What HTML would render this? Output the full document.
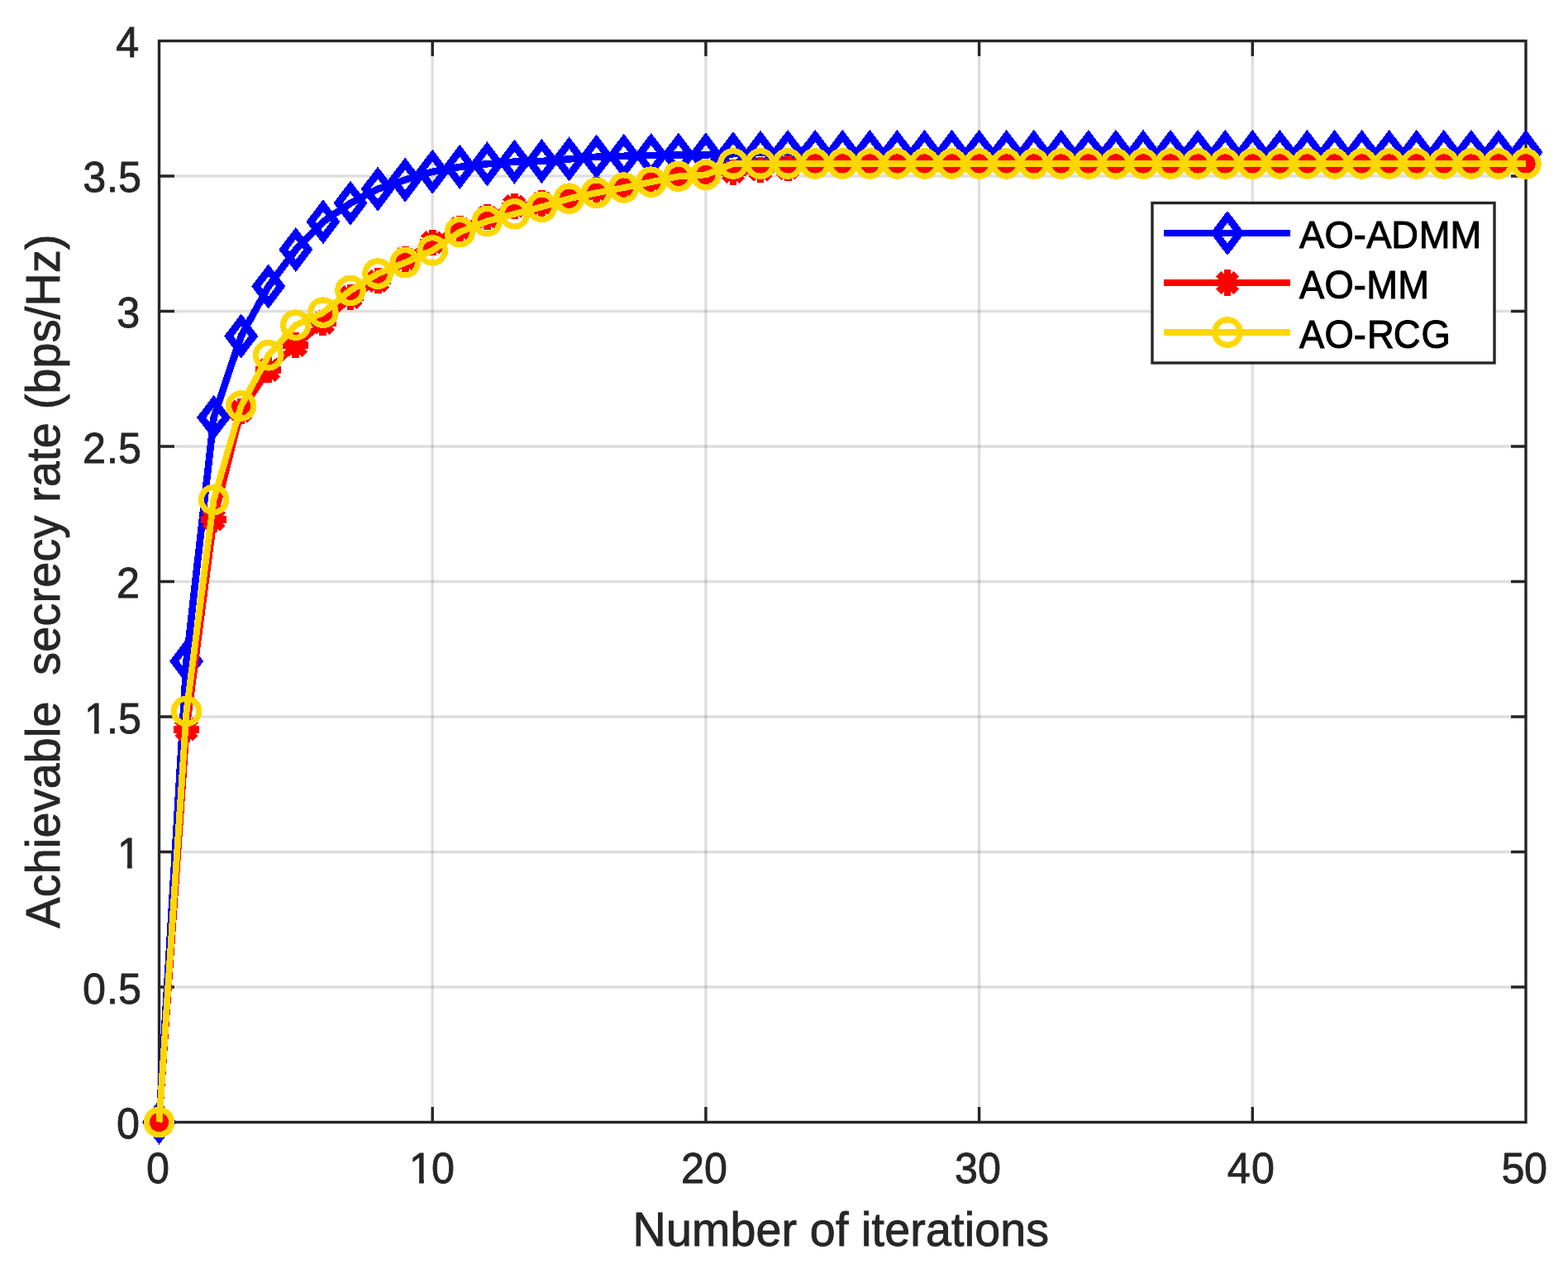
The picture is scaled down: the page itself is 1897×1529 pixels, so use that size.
<!DOCTYPE html>
<html lang="en"><head><meta charset="utf-8"><title>Achievable secrecy rate versus number of iterations</title>
<style>html,body{margin:0;padding:0;background:#fff}body{width:1897px;height:1529px;overflow:hidden}svg{display:block}text{font-family:"Liberation Sans",Arial,Helvetica,sans-serif;white-space:pre}.t{font-size:50.3px;fill:#262626;stroke:#262626;stroke-width:.8px}.l{font-size:55.6px;fill:#262626;stroke:#262626;stroke-width:.9px}.g{font-size:45.3px;fill:#000;stroke:#000;stroke-width:1px}</style>
</head><body>
<svg width="1897" height="1529" viewBox="0 0 1897 1529">
<defs><clipPath id="c1" clipPathUnits="userSpaceOnUse"><path clip-rule="evenodd" d="M-60 -60H160V30H-60ZM-6 -5.06H12.05V3H-6ZM17.69 -5.06H26.89V3H17.69Z"/></clipPath></defs>
<rect x="0" y="0" width="1897" height="1529" fill="#fff"/>
<g fill="none" stroke="#262626" stroke-opacity=".15" stroke-width="3.4">
<path d="M523.20 49.50V1357.50"/>
<path d="M853.90 49.50V1357.50"/>
<path d="M1184.60 49.50V1357.50"/>
<path d="M1515.30 49.50V1357.50"/>
<path d="M192.50 1194.00H1846.00"/>
<path d="M192.50 1030.50H1846.00"/>
<path d="M192.50 867.00H1846.00"/>
<path d="M192.50 703.50H1846.00"/>
<path d="M192.50 540.00H1846.00"/>
<path d="M192.50 376.50H1846.00"/>
<path d="M192.50 213.00H1846.00"/>
</g>
<g fill="none" stroke="#262626" stroke-width="3.4">
<rect x="192.50" y="49.50" width="1653.50" height="1308.00"/>
<path d="M523.20 1357.50V1339M523.20 49.50V68"/>
<path d="M853.90 1357.50V1339M853.90 49.50V68"/>
<path d="M1184.60 1357.50V1339M1184.60 49.50V68"/>
<path d="M1515.30 1357.50V1339M1515.30 49.50V68"/>
<path d="M192.50 1194.00H211M1846.00 1194.00H1828"/>
<path d="M192.50 1030.50H211M1846.00 1030.50H1828"/>
<path d="M192.50 867.00H211M1846.00 867.00H1828"/>
<path d="M192.50 703.50H211M1846.00 703.50H1828"/>
<path d="M192.50 540.00H211M1846.00 540.00H1828"/>
<path d="M192.50 376.50H211M1846.00 376.50H1828"/>
<path d="M192.50 213.00H211M1846.00 213.00H1828"/>
</g>
<text class="t" transform="translate(176.96 1431.00) scale(1 1.030)" x="0.00" y="0">0</text>
<text class="t" transform="translate(495.10 1431.00) scale(1 1.030)" x="0.00 26.86" y="0" clip-path="url(#c1)">10</text>
<text class="t" transform="translate(823.97 1431.00) scale(1 1.030)" x="0.00 28.07" y="0">20</text>
<text class="t" transform="translate(1155.12 1431.00) scale(1 1.030)" x="0.00 27.89" y="0">30</text>
<text class="t" transform="translate(1484.66 1431.00) scale(1 1.030)" x="0.00 29.41" y="0">40</text>
<text class="t" transform="translate(1816.52 1431.00) scale(1 1.030)" x="0.00 27.55" y="0">50</text>
<text class="t" transform="translate(141.04 1377.00) scale(1 1.030)" x="0.00" y="0">0</text>
<text class="t" transform="translate(100.08 1214.00) scale(1 1.030)" x="0.00 29.00 42.93" y="0">0.5</text>
<text class="t" transform="translate(142.00 1050.00) scale(1 1.030)" x="0.00" y="0" clip-path="url(#c1)">1</text>
<text class="t" transform="translate(102.00 887.00) scale(1 1.030)" x="0.00 27.08 41.01" y="0" clip-path="url(#c1)">1.5</text>
<text class="t" transform="translate(141.04 723.00) scale(1 1.030)" x="0.00" y="0">2</text>
<text class="t" transform="translate(100.08 560.00) scale(1 1.030)" x="0.00 29.00 42.93" y="0">2.5</text>
<text class="t" transform="translate(141.19 396.00) scale(1 1.030)" x="0.00" y="0">3</text>
<text class="t" transform="translate(100.23 232.00) scale(1 1.030)" x="0.00 28.85 42.78" y="0">3.5</text>
<text class="t" transform="translate(140.20 69.00) scale(1 1.030)" x="0.00" y="0">4</text>
<text class="l" transform="translate(765.60 1507.00) scale(1 1.030)" x="0" y="0" textLength="503.5" lengthAdjust="spacing">Number of iterations</text>
<text class="l" transform="translate(72.00 1122.70) rotate(-90) scale(1 1.030)" x="0" y="0" textLength="839.2" lengthAdjust="spacing" xml:space="preserve">Achievable  secrecy rate (bps/Hz)</text>
<g fill="none" stroke="#0000ff" stroke-width="8" stroke-linejoin="miter" shape-rendering="crispEdges">
<polyline stroke-width="8.6" points="192.50,1357.50 225.57,799.80 258.64,505.01 291.71,406.58 324.78,346.42 357.85,301.94 390.92,268.26 423.99,245.70 457.06,228.70 490.13,217.58 523.20,207.77 556.27,201.88 589.34,198.29 622.41,195.67 655.48,195.01 688.55,192.40 721.62,189.78 754.69,188.80 787.76,187.98 820.83,187.66 853.90,187.33 886.97,186.19 920.04,184.88 953.11,183.90 986.18,183.90"/>
<polyline points="986.18,183.90 1019.25,183.90 1052.32,183.90 1085.39,183.90 1118.46,183.90 1151.53,183.90 1184.60,183.90 1217.67,183.90 1250.74,183.90 1283.81,183.90 1316.88,183.90 1349.95,183.90 1383.02,183.90 1416.09,183.90 1449.16,183.90 1482.23,183.90 1515.30,183.90 1548.37,183.90 1581.44,183.90 1614.51,183.90 1647.58,183.90 1680.65,183.90 1713.72,183.90 1746.79,183.90 1779.86,183.90 1812.93,183.90 1846.00,183.90"/>
<path stroke-width="9" d="M192.50 1337.85L207.40 1357.50L192.50 1377.15L177.60 1357.50Z"/>
<path stroke-width="9" d="M225.57 780.15L240.47 799.80L225.57 819.45L210.67 799.80Z"/>
<path stroke-width="9" d="M258.64 485.36L273.54 505.01L258.64 524.66L243.74 505.01Z"/>
<path stroke-width="9" d="M291.71 386.93L306.61 406.58L291.71 426.23L276.81 406.58Z"/>
<path stroke-width="9" d="M324.78 326.77L339.68 346.42L324.78 366.07L309.88 346.42Z"/>
<path stroke-width="9" d="M357.85 282.29L372.75 301.94L357.85 321.59L342.95 301.94Z"/>
<path stroke-width="9" d="M390.92 248.61L405.82 268.26L390.92 287.91L376.02 268.26Z"/>
<path stroke-width="9" d="M423.99 226.05L438.89 245.70L423.99 265.35L409.09 245.70Z"/>
<path stroke-width="9" d="M457.06 209.05L471.96 228.70L457.06 248.35L442.16 228.70Z"/>
<path stroke-width="9" d="M490.13 197.93L505.03 217.58L490.13 237.23L475.23 217.58Z"/>
<path stroke-width="9" d="M523.20 188.12L538.10 207.77L523.20 227.42L508.30 207.77Z"/>
<path stroke-width="9" d="M556.27 182.23L571.17 201.88L556.27 221.53L541.37 201.88Z"/>
<path stroke-width="9" d="M589.34 178.64L604.24 198.29L589.34 217.94L574.44 198.29Z"/>
<path stroke-width="9" d="M622.41 176.02L637.31 195.67L622.41 215.32L607.51 195.67Z"/>
<path stroke-width="9" d="M655.48 175.36L670.38 195.01L655.48 214.66L640.58 195.01Z"/>
<path stroke-width="9" d="M688.55 172.75L703.45 192.40L688.55 212.05L673.65 192.40Z"/>
<path stroke-width="9" d="M721.62 170.13L736.52 189.78L721.62 209.43L706.72 189.78Z"/>
<path stroke-width="9" d="M754.69 169.15L769.59 188.80L754.69 208.45L739.79 188.80Z"/>
<path stroke-width="9" d="M787.76 168.33L802.66 187.98L787.76 207.63L772.86 187.98Z"/>
<path stroke-width="9" d="M820.83 168.01L835.73 187.66L820.83 207.31L805.93 187.66Z"/>
<path stroke-width="9" d="M853.90 167.68L868.80 187.33L853.90 206.98L839.00 187.33Z"/>
<path stroke-width="9" d="M886.97 166.54L901.87 186.19L886.97 205.84L872.07 186.19Z"/>
<path stroke-width="9" d="M920.04 165.23L934.94 184.88L920.04 204.53L905.14 184.88Z"/>
<path stroke-width="9" d="M953.11 164.25L968.01 183.90L953.11 203.55L938.21 183.90Z"/>
<path stroke-width="9" d="M986.18 164.25L1001.08 183.90L986.18 203.55L971.28 183.90Z"/>
<path stroke-width="9" d="M1019.25 164.25L1034.15 183.90L1019.25 203.55L1004.35 183.90Z"/>
<path stroke-width="9" d="M1052.32 164.25L1067.22 183.90L1052.32 203.55L1037.42 183.90Z"/>
<path stroke-width="9" d="M1085.39 164.25L1100.29 183.90L1085.39 203.55L1070.49 183.90Z"/>
<path stroke-width="9" d="M1118.46 164.25L1133.36 183.90L1118.46 203.55L1103.56 183.90Z"/>
<path stroke-width="9" d="M1151.53 164.25L1166.43 183.90L1151.53 203.55L1136.63 183.90Z"/>
<path stroke-width="9" d="M1184.60 164.25L1199.50 183.90L1184.60 203.55L1169.70 183.90Z"/>
<path stroke-width="9" d="M1217.67 164.25L1232.57 183.90L1217.67 203.55L1202.77 183.90Z"/>
<path stroke-width="9" d="M1250.74 164.25L1265.64 183.90L1250.74 203.55L1235.84 183.90Z"/>
<path stroke-width="9" d="M1283.81 164.25L1298.71 183.90L1283.81 203.55L1268.91 183.90Z"/>
<path stroke-width="9" d="M1316.88 164.25L1331.78 183.90L1316.88 203.55L1301.98 183.90Z"/>
<path stroke-width="9" d="M1349.95 164.25L1364.85 183.90L1349.95 203.55L1335.05 183.90Z"/>
<path stroke-width="9" d="M1383.02 164.25L1397.92 183.90L1383.02 203.55L1368.12 183.90Z"/>
<path stroke-width="9" d="M1416.09 164.25L1430.99 183.90L1416.09 203.55L1401.19 183.90Z"/>
<path stroke-width="9" d="M1449.16 164.25L1464.06 183.90L1449.16 203.55L1434.26 183.90Z"/>
<path stroke-width="9" d="M1482.23 164.25L1497.13 183.90L1482.23 203.55L1467.33 183.90Z"/>
<path stroke-width="9" d="M1515.30 164.25L1530.20 183.90L1515.30 203.55L1500.40 183.90Z"/>
<path stroke-width="9" d="M1548.37 164.25L1563.27 183.90L1548.37 203.55L1533.47 183.90Z"/>
<path stroke-width="9" d="M1581.44 164.25L1596.34 183.90L1581.44 203.55L1566.54 183.90Z"/>
<path stroke-width="9" d="M1614.51 164.25L1629.41 183.90L1614.51 203.55L1599.61 183.90Z"/>
<path stroke-width="9" d="M1647.58 164.25L1662.48 183.90L1647.58 203.55L1632.68 183.90Z"/>
<path stroke-width="9" d="M1680.65 164.25L1695.55 183.90L1680.65 203.55L1665.75 183.90Z"/>
<path stroke-width="9" d="M1713.72 164.25L1728.62 183.90L1713.72 203.55L1698.82 183.90Z"/>
<path stroke-width="9" d="M1746.79 164.25L1761.69 183.90L1746.79 203.55L1731.89 183.90Z"/>
<path stroke-width="9" d="M1779.86 164.25L1794.76 183.90L1779.86 203.55L1764.96 183.90Z"/>
<path stroke-width="9" d="M1812.93 164.25L1827.83 183.90L1812.93 203.55L1798.03 183.90Z"/>
<path stroke-width="9" d="M1846.00 164.25L1860.90 183.90L1846.00 203.55L1831.10 183.90Z"/>
</g>
<g fill="none" stroke="#ff0000" stroke-width="8" stroke-linejoin="miter" shape-rendering="crispEdges">
<polyline stroke-width="8" points="192.50,1357.50 225.57,882.14 258.64,628.29 291.71,497.49 324.78,447.79 357.85,417.54 390.92,390.56 423.99,359.50 457.06,339.88 490.13,313.39 523.20,293.44 556.27,276.27 589.34,262.70 622.41,249.30 655.48,246.03 688.55,239.81 721.62,229.68 754.69,224.61 787.76,218.23 820.83,212.67 853.90,209.73 886.97,208.10 920.04,205.32 953.11,203.52 986.18,197.96"/>
<polyline points="986.18,197.96 1019.25,197.96 1052.32,197.96 1085.39,197.96 1118.46,197.96 1151.53,197.96 1184.60,197.96 1217.67,197.96 1250.74,197.96 1283.81,197.96 1316.88,197.96 1349.95,197.96 1383.02,197.96 1416.09,197.96 1449.16,197.96 1482.23,197.96 1515.30,197.96 1548.37,197.96 1581.44,197.96 1614.51,197.96 1647.58,197.96 1680.65,197.96 1713.72,197.96 1746.79,197.96 1779.86,197.96 1812.93,197.96 1846.00,197.96"/>
<path stroke-width="8.9" d="M176.90 1357.50H208.10M192.50 1341.90V1373.10"/><path stroke-width="9.2" d="M181.61 1346.61L203.39 1368.39M181.61 1368.39L203.39 1346.61"/>
<path stroke-width="8.9" d="M209.97 882.14H241.17M225.57 866.54V897.74"/><path stroke-width="9.2" d="M214.68 871.25L236.46 893.03M214.68 893.03L236.46 871.25"/>
<path stroke-width="8.9" d="M243.04 628.29H274.24M258.64 612.69V643.89"/><path stroke-width="9.2" d="M247.75 617.40L269.53 639.18M247.75 639.18L269.53 617.40"/>
<path stroke-width="8.9" d="M276.11 497.49H307.31M291.71 481.89V513.09"/><path stroke-width="9.2" d="M280.82 486.60L302.60 508.38M280.82 508.38L302.60 486.60"/>
<path stroke-width="8.9" d="M309.18 447.79H340.38M324.78 432.19V463.39"/><path stroke-width="9.2" d="M313.89 436.90L335.67 458.68M313.89 458.68L335.67 436.90"/>
<path stroke-width="8.9" d="M342.25 417.54H373.45M357.85 401.94V433.14"/><path stroke-width="9.2" d="M346.96 406.65L368.74 428.43M346.96 428.43L368.74 406.65"/>
<path stroke-width="8.9" d="M375.32 390.56H406.52M390.92 374.96V406.16"/><path stroke-width="9.2" d="M380.03 379.67L401.81 401.45M380.03 401.45L401.81 379.67"/>
<path stroke-width="8.9" d="M408.39 359.50H439.59M423.99 343.90V375.10"/><path stroke-width="9.2" d="M413.10 348.61L434.88 370.39M413.10 370.39L434.88 348.61"/>
<path stroke-width="8.9" d="M441.46 339.88H472.66M457.06 324.28V355.48"/><path stroke-width="9.2" d="M446.17 328.99L467.95 350.77M446.17 350.77L467.95 328.99"/>
<path stroke-width="8.9" d="M474.53 313.39H505.73M490.13 297.79V328.99"/><path stroke-width="9.2" d="M479.24 302.50L501.02 324.28M479.24 324.28L501.02 302.50"/>
<path stroke-width="8.9" d="M507.60 293.44H538.80M523.20 277.84V309.04"/><path stroke-width="9.2" d="M512.31 282.55L534.09 304.33M512.31 304.33L534.09 282.55"/>
<path stroke-width="8.9" d="M540.67 276.27H571.87M556.27 260.67V291.87"/><path stroke-width="9.2" d="M545.38 265.39L567.16 287.16M545.38 287.16L567.16 265.39"/>
<path stroke-width="8.9" d="M573.74 262.70H604.94M589.34 247.10V278.30"/><path stroke-width="9.2" d="M578.45 251.81L600.23 273.59M578.45 273.59L600.23 251.81"/>
<path stroke-width="8.9" d="M606.81 249.30H638.01M622.41 233.70V264.90"/><path stroke-width="9.2" d="M611.52 238.41L633.30 260.19M611.52 260.19L633.30 238.41"/>
<path stroke-width="8.9" d="M639.88 246.03H671.08M655.48 230.43V261.63"/><path stroke-width="9.2" d="M644.59 235.14L666.37 256.92M644.59 256.92L666.37 235.14"/>
<path stroke-width="8.9" d="M672.95 239.81H704.15M688.55 224.21V255.41"/><path stroke-width="9.2" d="M677.66 228.92L699.44 250.70M677.66 250.70L699.44 228.92"/>
<path stroke-width="8.9" d="M706.02 229.68H737.22M721.62 214.08V245.28"/><path stroke-width="9.2" d="M710.73 218.79L732.51 240.57M710.73 240.57L732.51 218.79"/>
<path stroke-width="8.9" d="M739.09 224.61H770.29M754.69 209.01V240.21"/><path stroke-width="9.2" d="M743.80 213.72L765.58 235.50M743.80 235.50L765.58 213.72"/>
<path stroke-width="8.9" d="M772.16 218.23H803.36M787.76 202.63V233.83"/><path stroke-width="9.2" d="M776.87 207.34L798.65 229.12M776.87 229.12L798.65 207.34"/>
<path stroke-width="8.9" d="M805.23 212.67H836.43M820.83 197.07V228.27"/><path stroke-width="9.2" d="M809.94 201.78L831.72 223.56M809.94 223.56L831.72 201.78"/>
<path stroke-width="8.9" d="M838.30 209.73H869.50M853.90 194.13V225.33"/><path stroke-width="9.2" d="M843.01 198.84L864.79 220.62M843.01 220.62L864.79 198.84"/>
<path stroke-width="8.9" d="M871.37 208.10H902.57M886.97 192.50V223.70"/><path stroke-width="9.2" d="M876.08 197.21L897.86 218.98M876.08 218.98L897.86 197.21"/>
<path stroke-width="8.9" d="M904.44 205.32H935.64M920.04 189.72V220.92"/><path stroke-width="9.2" d="M909.15 194.43L930.93 216.20M909.15 216.20L930.93 194.43"/>
<path stroke-width="8.9" d="M937.51 203.52H968.71M953.11 187.92V219.12"/><path stroke-width="9.2" d="M942.22 192.63L964.00 214.41M942.22 214.41L964.00 192.63"/>
<path stroke-width="8.9" d="M970.58 197.96H1001.78M986.18 182.36V213.56"/><path stroke-width="9.2" d="M975.29 187.07L997.07 208.85M975.29 208.85L997.07 187.07"/>
<path stroke-width="8.9" d="M1003.65 197.96H1034.85M1019.25 182.36V213.56"/><path stroke-width="9.2" d="M1008.36 187.07L1030.14 208.85M1008.36 208.85L1030.14 187.07"/>
<path stroke-width="8.9" d="M1036.72 197.96H1067.92M1052.32 182.36V213.56"/><path stroke-width="9.2" d="M1041.43 187.07L1063.21 208.85M1041.43 208.85L1063.21 187.07"/>
<path stroke-width="8.9" d="M1069.79 197.96H1100.99M1085.39 182.36V213.56"/><path stroke-width="9.2" d="M1074.50 187.07L1096.28 208.85M1074.50 208.85L1096.28 187.07"/>
<path stroke-width="8.9" d="M1102.86 197.96H1134.06M1118.46 182.36V213.56"/><path stroke-width="9.2" d="M1107.57 187.07L1129.35 208.85M1107.57 208.85L1129.35 187.07"/>
<path stroke-width="8.9" d="M1135.93 197.96H1167.13M1151.53 182.36V213.56"/><path stroke-width="9.2" d="M1140.64 187.07L1162.42 208.85M1140.64 208.85L1162.42 187.07"/>
<path stroke-width="8.9" d="M1169.00 197.96H1200.20M1184.60 182.36V213.56"/><path stroke-width="9.2" d="M1173.71 187.07L1195.49 208.85M1173.71 208.85L1195.49 187.07"/>
<path stroke-width="8.9" d="M1202.07 197.96H1233.27M1217.67 182.36V213.56"/><path stroke-width="9.2" d="M1206.78 187.07L1228.56 208.85M1206.78 208.85L1228.56 187.07"/>
<path stroke-width="8.9" d="M1235.14 197.96H1266.34M1250.74 182.36V213.56"/><path stroke-width="9.2" d="M1239.85 187.07L1261.63 208.85M1239.85 208.85L1261.63 187.07"/>
<path stroke-width="8.9" d="M1268.21 197.96H1299.41M1283.81 182.36V213.56"/><path stroke-width="9.2" d="M1272.92 187.07L1294.70 208.85M1272.92 208.85L1294.70 187.07"/>
<path stroke-width="8.9" d="M1301.28 197.96H1332.48M1316.88 182.36V213.56"/><path stroke-width="9.2" d="M1305.99 187.07L1327.77 208.85M1305.99 208.85L1327.77 187.07"/>
<path stroke-width="8.9" d="M1334.35 197.96H1365.55M1349.95 182.36V213.56"/><path stroke-width="9.2" d="M1339.06 187.07L1360.84 208.85M1339.06 208.85L1360.84 187.07"/>
<path stroke-width="8.9" d="M1367.42 197.96H1398.62M1383.02 182.36V213.56"/><path stroke-width="9.2" d="M1372.13 187.07L1393.91 208.85M1372.13 208.85L1393.91 187.07"/>
<path stroke-width="8.9" d="M1400.49 197.96H1431.69M1416.09 182.36V213.56"/><path stroke-width="9.2" d="M1405.20 187.07L1426.98 208.85M1405.20 208.85L1426.98 187.07"/>
<path stroke-width="8.9" d="M1433.56 197.96H1464.76M1449.16 182.36V213.56"/><path stroke-width="9.2" d="M1438.27 187.07L1460.05 208.85M1438.27 208.85L1460.05 187.07"/>
<path stroke-width="8.9" d="M1466.63 197.96H1497.83M1482.23 182.36V213.56"/><path stroke-width="9.2" d="M1471.34 187.07L1493.12 208.85M1471.34 208.85L1493.12 187.07"/>
<path stroke-width="8.9" d="M1499.70 197.96H1530.90M1515.30 182.36V213.56"/><path stroke-width="9.2" d="M1504.41 187.07L1526.19 208.85M1504.41 208.85L1526.19 187.07"/>
<path stroke-width="8.9" d="M1532.77 197.96H1563.97M1548.37 182.36V213.56"/><path stroke-width="9.2" d="M1537.48 187.07L1559.26 208.85M1537.48 208.85L1559.26 187.07"/>
<path stroke-width="8.9" d="M1565.84 197.96H1597.04M1581.44 182.36V213.56"/><path stroke-width="9.2" d="M1570.55 187.07L1592.33 208.85M1570.55 208.85L1592.33 187.07"/>
<path stroke-width="8.9" d="M1598.91 197.96H1630.11M1614.51 182.36V213.56"/><path stroke-width="9.2" d="M1603.62 187.07L1625.40 208.85M1603.62 208.85L1625.40 187.07"/>
<path stroke-width="8.9" d="M1631.98 197.96H1663.18M1647.58 182.36V213.56"/><path stroke-width="9.2" d="M1636.69 187.07L1658.47 208.85M1636.69 208.85L1658.47 187.07"/>
<path stroke-width="8.9" d="M1665.05 197.96H1696.25M1680.65 182.36V213.56"/><path stroke-width="9.2" d="M1669.76 187.07L1691.54 208.85M1669.76 208.85L1691.54 187.07"/>
<path stroke-width="8.9" d="M1698.12 197.96H1729.32M1713.72 182.36V213.56"/><path stroke-width="9.2" d="M1702.83 187.07L1724.61 208.85M1702.83 208.85L1724.61 187.07"/>
<path stroke-width="8.9" d="M1731.19 197.96H1762.39M1746.79 182.36V213.56"/><path stroke-width="9.2" d="M1735.90 187.07L1757.68 208.85M1735.90 208.85L1757.68 187.07"/>
<path stroke-width="8.9" d="M1764.26 197.96H1795.46M1779.86 182.36V213.56"/><path stroke-width="9.2" d="M1768.97 187.07L1790.75 208.85M1768.97 208.85L1790.75 187.07"/>
<path stroke-width="8.9" d="M1797.33 197.96H1828.53M1812.93 182.36V213.56"/><path stroke-width="9.2" d="M1802.04 187.07L1823.82 208.85M1802.04 208.85L1823.82 187.07"/>
<path stroke-width="8.9" d="M1830.40 197.96H1861.60M1846.00 182.36V213.56"/><path stroke-width="9.2" d="M1835.11 187.07L1856.89 208.85M1835.11 208.85L1856.89 187.07"/>
</g>
<g fill="none" stroke="#ffd700" stroke-width="8" stroke-linejoin="miter" shape-rendering="crispEdges">
<polyline stroke-width="7.9" points="192.50,1357.50 225.57,860.30 258.64,604.42 291.71,490.95 324.78,429.80 357.85,393.18 390.92,378.13 423.99,351.32 457.06,331.05 490.13,317.64 523.20,302.92 556.27,280.69 589.34,267.61 622.41,258.78 655.48,250.28 688.55,240.14 721.62,233.27 754.69,227.06 787.76,220.19 820.83,213.33 853.90,211.37 886.97,197.96 920.04,197.96 953.11,197.96 986.18,197.96"/>
<polyline points="986.18,197.96 1019.25,197.96 1052.32,197.96 1085.39,197.96 1118.46,197.96 1151.53,197.96 1184.60,197.96 1217.67,197.96 1250.74,197.96 1283.81,197.96 1316.88,197.96 1349.95,197.96 1383.02,197.96 1416.09,197.96 1449.16,197.96 1482.23,197.96 1515.30,197.96 1548.37,197.96 1581.44,197.96 1614.51,197.96 1647.58,197.96 1680.65,197.96 1713.72,197.96 1746.79,197.96 1779.86,197.96 1812.93,197.96 1846.00,197.96"/>
<circle stroke-width="7.2" cx="192.50" cy="1357.50" r="15.2"/>
<circle stroke-width="7.2" cx="225.57" cy="860.30" r="15.2"/>
<circle stroke-width="7.2" cx="258.64" cy="604.42" r="15.2"/>
<circle stroke-width="7.2" cx="291.71" cy="490.95" r="15.2"/>
<circle stroke-width="7.2" cx="324.78" cy="429.80" r="15.2"/>
<circle stroke-width="7.2" cx="357.85" cy="393.18" r="15.2"/>
<circle stroke-width="7.2" cx="390.92" cy="378.13" r="15.2"/>
<circle stroke-width="7.2" cx="423.99" cy="351.32" r="15.2"/>
<circle stroke-width="7.2" cx="457.06" cy="331.05" r="15.2"/>
<circle stroke-width="7.2" cx="490.13" cy="317.64" r="15.2"/>
<circle stroke-width="7.2" cx="523.20" cy="302.92" r="15.2"/>
<circle stroke-width="7.2" cx="556.27" cy="280.69" r="15.2"/>
<circle stroke-width="7.2" cx="589.34" cy="267.61" r="15.2"/>
<circle stroke-width="7.2" cx="622.41" cy="258.78" r="15.2"/>
<circle stroke-width="7.2" cx="655.48" cy="250.28" r="15.2"/>
<circle stroke-width="7.2" cx="688.55" cy="240.14" r="15.2"/>
<circle stroke-width="7.2" cx="721.62" cy="233.27" r="15.2"/>
<circle stroke-width="7.2" cx="754.69" cy="227.06" r="15.2"/>
<circle stroke-width="7.2" cx="787.76" cy="220.19" r="15.2"/>
<circle stroke-width="7.2" cx="820.83" cy="213.33" r="15.2"/>
<circle stroke-width="7.2" cx="853.90" cy="211.37" r="15.2"/>
<circle stroke-width="7.2" cx="886.97" cy="197.96" r="15.2"/>
<circle stroke-width="7.2" cx="920.04" cy="197.96" r="15.2"/>
<circle stroke-width="7.2" cx="953.11" cy="197.96" r="15.2"/>
<circle stroke-width="7.2" cx="986.18" cy="197.96" r="15.2"/>
<circle stroke-width="7.2" cx="1019.25" cy="197.96" r="15.2"/>
<circle stroke-width="7.2" cx="1052.32" cy="197.96" r="15.2"/>
<circle stroke-width="7.2" cx="1085.39" cy="197.96" r="15.2"/>
<circle stroke-width="7.2" cx="1118.46" cy="197.96" r="15.2"/>
<circle stroke-width="7.2" cx="1151.53" cy="197.96" r="15.2"/>
<circle stroke-width="7.2" cx="1184.60" cy="197.96" r="15.2"/>
<circle stroke-width="7.2" cx="1217.67" cy="197.96" r="15.2"/>
<circle stroke-width="7.2" cx="1250.74" cy="197.96" r="15.2"/>
<circle stroke-width="7.2" cx="1283.81" cy="197.96" r="15.2"/>
<circle stroke-width="7.2" cx="1316.88" cy="197.96" r="15.2"/>
<circle stroke-width="7.2" cx="1349.95" cy="197.96" r="15.2"/>
<circle stroke-width="7.2" cx="1383.02" cy="197.96" r="15.2"/>
<circle stroke-width="7.2" cx="1416.09" cy="197.96" r="15.2"/>
<circle stroke-width="7.2" cx="1449.16" cy="197.96" r="15.2"/>
<circle stroke-width="7.2" cx="1482.23" cy="197.96" r="15.2"/>
<circle stroke-width="7.2" cx="1515.30" cy="197.96" r="15.2"/>
<circle stroke-width="7.2" cx="1548.37" cy="197.96" r="15.2"/>
<circle stroke-width="7.2" cx="1581.44" cy="197.96" r="15.2"/>
<circle stroke-width="7.2" cx="1614.51" cy="197.96" r="15.2"/>
<circle stroke-width="7.2" cx="1647.58" cy="197.96" r="15.2"/>
<circle stroke-width="7.2" cx="1680.65" cy="197.96" r="15.2"/>
<circle stroke-width="7.2" cx="1713.72" cy="197.96" r="15.2"/>
<circle stroke-width="7.2" cx="1746.79" cy="197.96" r="15.2"/>
<circle stroke-width="7.2" cx="1779.86" cy="197.96" r="15.2"/>
<circle stroke-width="7.2" cx="1812.93" cy="197.96" r="15.2"/>
<circle stroke-width="7.2" cx="1846.00" cy="197.96" r="15.2"/>
</g>
<rect x="1394" y="245.5" width="414" height="193.5" fill="#fff" stroke="#262626" stroke-width="3.4"/>
<g fill="none" stroke="#0000ff" stroke-width="8" shape-rendering="crispEdges">
<path d="M1408 282H1561"/>
<path stroke-width="9" d="M1485.00 262.35L1499.90 282.00L1485.00 301.65L1470.10 282.00Z"/>
</g>
<text class="g" transform="translate(1571.89 300.00) scale(1 1.020)" x="0.00 30.60 65.97 81.47 111.47 144.80 182.74" y="0">AO-ADMM</text>
<g fill="none" stroke="#ff0000" stroke-width="8" shape-rendering="crispEdges">
<path d="M1408 342H1561"/>
<path stroke-width="8" d="M1469.00 342.00H1501.00M1485.00 326.00V358.00"/><path stroke-width="9.2" d="M1474.11 331.11L1495.89 352.89M1474.11 352.89L1495.89 331.11"/>
</g>
<text class="g" transform="translate(1571.89 361.00) scale(1 1.060)" x="0.00 30.60 65.97 81.27 119.27" y="0">AO-MM</text>
<g fill="none" stroke="#ffd700" stroke-width="8" shape-rendering="crispEdges">
<path d="M1408 402H1561"/>
<circle stroke-width="7.2" cx="1485.00" cy="402.00" r="15.2"/>
</g>
<text class="g" transform="translate(1571.89 421.00) scale(1 1.060)" x="0.00 30.60 65.97 82.02 113.96 147.57" y="0">AO-RCG</text>
</svg>
</body></html>
